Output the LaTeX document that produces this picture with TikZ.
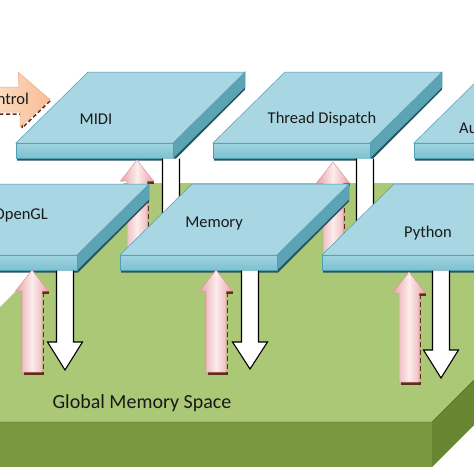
\documentclass[tikz,border=0pt]{standalone}
\usepackage{fontspec}
\setmainfont{Carlito}
\definecolor{platetop}{RGB}{168,214,226}
\definecolor{platefrontA}{RGB}{160,212,224}
\definecolor{platefrontB}{RGB}{126,192,208}
\definecolor{plateside}{RGB}{92,163,180}
\definecolor{plateedge}{RGB}{80,160,180}
\definecolor{plateshadow}{RGB}{40,85,100}
\definecolor{greentop}{RGB}{170,200,118}
\definecolor{greenfront}{RGB}{122,152,64}
\definecolor{greenside}{RGB}{104,134,50}
\definecolor{pinklight}{RGB}{252,236,236}
\definecolor{pinkdark}{RGB}{232,162,170}
\definecolor{pinkedge}{RGB}{222,150,158}
\definecolor{brownshadow}{RGB}{95,45,25}
\definecolor{peachlight}{RGB}{253,232,214}
\definecolor{peachdark}{RGB}{248,190,150}
\definecolor{peachedge}{RGB}{240,175,135}
\definecolor{txt}{RGB}{25,25,25}
\tikzset{
  platetext/.style={text=txt, font=\fontsize{16.5}{18}\selectfont, inner sep=0pt},
  bigtext/.style={text=txt, font=\fontsize{20}{22}\selectfont, inner sep=0pt},
  whitearrow/.style={fill=white, draw=black, line width=1.1pt, line join=miter},
  pinkarrow/.style={left color=pinkdark, right color=pinkdark, middle color=pinklight, draw=pinkedge, line width=0.5pt},
  pinkshadow/.style={draw=brownshadow, line width=1.6pt, dash pattern=on 5pt off 3pt},
}
% plate: #1,#2 = bottom-left corner of the top surface
\newcommand\myplate[2]{%
  \fill[plateshadow] ({#1+1},{#2+15}) -- ({#1+157},{#2+15}) -- ({#1+229},{#2-56}) -- ({#1+229},{#2-53.5}) -- ({#1+158},{#2+17.5}) -- ({#1+1},{#2+17.5}) -- cycle;
  \filldraw[fill=plateside, draw=plateedge, line width=0.5pt] ({#1+157},{#2}) -- ({#1+229},{#2-71}) -- ({#1+229},{#2-56}) -- ({#1+157},{#2+15}) -- cycle;
  \shade[top color=platefrontA, bottom color=platefrontB] ({#1},{#2}) rectangle ({#1+157},{#2+15});
  \draw[plateedge, line width=0.5pt] ({#1},{#2}) rectangle ({#1+157},{#2+15});
  \filldraw[fill=platetop, draw=plateedge, line width=0.5pt] ({#1},{#2}) -- ({#1+72},{#2-71}) -- ({#1+229},{#2-71}) -- ({#1+157},{#2}) -- cycle;
}
% pink up arrow: centre x, tip y, bottom y
\newcommand\pinkup[3]{%
  \draw[pinkshadow] ({#1+11.5},{#2+22}) -- ({#1+11.5},{#3+1});
  \fill[brownshadow] ({#1-8},{#3}) rectangle ({#1+12.3},{#3+2.5});
  \fill[brownshadow] ({#1+10},{#2+21}) rectangle ({#1+17},{#2+23.5});
  \shade[pinkarrow] ({#1},{#2}) -- ({#1+16.5},{#2+21}) -- ({#1+10},{#2+21}) -- ({#1+10},{#3}) -- ({#1-10},{#3}) -- ({#1-10},{#2+21}) -- ({#1-16.5},{#2+21}) -- cycle;
}
% white down arrow: centre x, top y, head start y, tip y
\newcommand\whitedown[4]{%
  \filldraw[whitearrow] ({#1-8.5},{#2}) -- ({#1-8.5},{#3}) -- ({#1-17.5},{#3}) -- ({#1},{#4}) -- ({#1+17.5},{#3}) -- ({#1+8.5},{#3}) -- ({#1+8.5},{#2});
}
\begin{document}
\begin{tikzpicture}[x=1pt,y=-1pt]
\useasboundingbox (0,0) rectangle (474,474);
\clip (0,0) rectangle (474,474);
\fill[white] (0,0) rectangle (474,474);
% global memory slab
\fill[greentop] (124,183) -- (671,183) -- (432,422) -- (-115,422) -- cycle;
\fill[greenfront] (-115,422) rectangle (432,467);
\fill[greenside] (432,422) -- (671,183) -- (671,228) -- (432,467) -- cycle;
\draw[greenside!80!black, line width=0.4pt] (-115,422) -- (432,422) -- (671,183);
\node[bigtext] (gms) at (142,403) {Global Memory Space};
% control arrow
\draw[brownshadow, line width=1.5pt, dash pattern=on 4pt off 2.5pt] (-20,114) -- (22,114) -- (22,128) -- (51,100);
\shade[left color=peachlight, right color=peachdark, draw=peachedge, line width=0.5pt]
  (-30,87) -- (19,87) -- (18,72) -- (50,99.5) -- (20,127) -- (20,112) -- (-30,112) -- cycle;
\node[platetext, anchor=east] (control) at (29,99) {Control};
% upper row plates
\myplate{16}{143}
\myplate{213}{143}
\myplate{414}{143}
\node[platetext] (midi) at (96,119) {MIDI};
\node[platetext] (thread) at (322,119) {Thread Dispatch};
\node[platetext, anchor=west] (audio) at (459,128) {Audio};
% upper row arrows
\pinkup{137}{160}{262}
\whitedown{171}{158.5}{240}{262}
\pinkup{333}{162}{262}
\whitedown{365}{158.5}{240}{262}
% lower row plates
\myplate{-80}{255}
\myplate{120}{255}
\myplate{322}{255}
\node[platetext, anchor=east] (opengl) at (48,215) {OpenGL};
\node[platetext] (memory) at (214,224) {Memory};
\node[platetext] (python) at (428,233) {Python};
% lower row arrows
\pinkup{32}{270}{372}
\whitedown{65}{270.5}{342}{370}
\pinkup{216}{270}{372}
\whitedown{250}{270.5}{342}{369}
\pinkup{409}{272}{382}
\whitedown{441}{270.5}{350}{378}
\end{tikzpicture}
\end{document}
